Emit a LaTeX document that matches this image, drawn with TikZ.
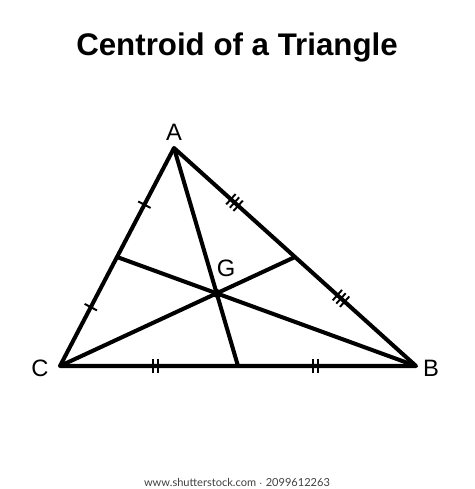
\documentclass[tikz,border=0pt]{standalone}
\usepackage{fontspec}
\setmainfont{Liberation Sans}
\newfontfamily\footerfont{Lato}
\usetikzlibrary{calc}

\tikzset{
    side/.style={line width=2.3pt, line join=round},
    median/.style={line width=2.3pt},
    tick/.style={line width=1.1pt},
    vertex/.style={font=\fontsize{13.5}{16}\selectfont, inner sep=0pt}
}

\begin{document}
\begin{tikzpicture}[x=0.02cm, y=-0.02cm]
        \useasboundingbox (0,0) rectangle (474,489);

        \node (title) at (237,47) {\fontsize{17.8}{20}\selectfont\bfseries Centroid of a Triangle};

        % vertices
        \coordinate (A) at (174,148);
        \coordinate (B) at (416,366);
        \coordinate (C) at (60,366);

        % midpoints and centroid
        \coordinate (mAC) at ($(A)!0.5!(C)$);
        \coordinate (mAB) at ($(A)!0.5!(B)$);
        \coordinate (mCB) at ($(C)!0.5!(B)$);
        \coordinate (G) at ($(A)!2/3!(mCB)$);

        % medians
        \draw [median] (A) -- (mCB);
        \draw [median] (B) -- (mAC);
        \draw [median] (C) -- (mAB);

        % triangle
        \draw [side] (A) -- (B) -- (C) -- cycle;

        % single ticks on AC
        \foreach \t in {0.26,0.73}
            \draw [tick] ($(A)!\t!(C)!0.14cm!90:(C)$) -- ($(A)!\t!(C)!0.14cm!-90:(C)$);

        % double ticks on CB
        \foreach \t in {0.261,0.275,0.710,0.724}
            \draw [tick] ($(C)!\t!(B)!0.14cm!90:(B)$) -- ($(C)!\t!(B)!0.14cm!-90:(B)$);

        % triple ticks on AB
        \foreach \t in {0.235,0.250,0.265,0.675,0.690,0.705}
            \draw [tick] ($(A)!\t!(B)!0.14cm!90:(B)$) -- ($(A)!\t!(B)!0.14cm!-90:(B)$);

        \fill (G) circle (4.5);

        % labels
        \node [vertex] (labA) at (174,132) {A};
        \node [vertex] (labB) at (431,368) {B};
        \node [vertex] (labC) at (40,368) {C};
        \node [vertex] (labG) at (226,268) {G};

        \node [text=black!75] (footer) at (237,482) {\footerfont\fontsize{6.3}{8}\selectfont www.shutterstock.com $\cdot$ 2099612263};
    \end{tikzpicture}
\end{document}
